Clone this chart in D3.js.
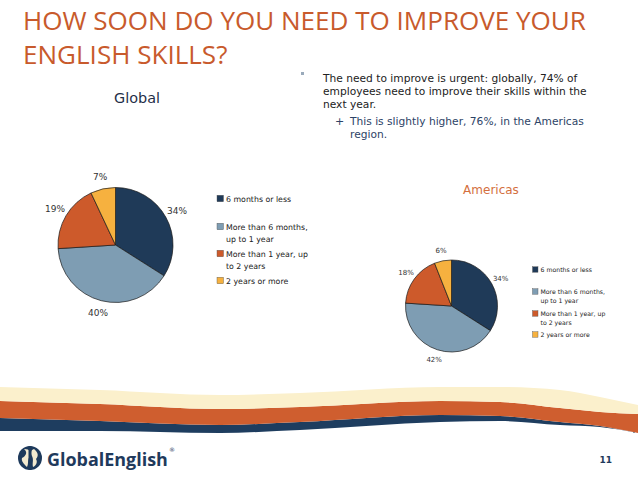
<!DOCTYPE html>
<html lang="en">
<head>
    <meta charset="UTF-8">
    <title>How soon do you need to improve your English skills?</title>
    <script src="https://d3js.org/d3.v7.min.js"></script>
    <style>
        body {margin: 0; background: white;}
        svg {display: block;}
        text {font-family: "DejaVu Sans", Verdana, sans-serif;}
    </style>
</head>
<body>
<script>
    const width = 638;
    const height = 478;

    // data
    const categories = ["6 months or less", "More than 6 months, up to 1 year",
                        "More than 1 year, up to 2 years", "2 years or more"];
    const legendLines = [["6 months or less"], ["More than 6 months,", "up to 1 year"],
                         ["More than 1 year, up", "to 2 years"], ["2 years or more"]];
    const globalValues = [34, 40, 19, 7];
    const americasValues = [34, 42, 18, 6];
    const colors = ["#1f3a58", "#7e9db3", "#cd5a2b", "#f6b13f"];

    const title = ["HOW SOON DO YOU NEED TO IMPROVE YOUR", "ENGLISH SKILLS?"];
    const bullet = ["The need to improve is urgent: globally, 74% of",
                    "employees need to improve their skills within the",
                    "next year."];
    const subBullet = ["This is slightly higher, 76%, in the Americas", "region."];

    const svg = d3.select("body").append("svg")
            .attr("width", width).attr("height", height);

    // scale font size so the longest line of a block fills a given width
    function fit(sel, w) {
        let max = 0;
        sel.each(function() { max = Math.max(max, this.getComputedTextLength()); });
        const fs = parseFloat(sel.attr("font-size"));
        sel.attr("font-size", fs * w / max);
    }

    // ---- header
    const t = svg.selectAll("text.title").data(title).enter().append("text")
            .attr("class", "title")
            .attr("x", 23).attr("y", (d, i) => 30 + i * 34)
            .style("font-family", "'Open Sans', sans-serif")
            .attr("font-size", 28)
            .attr("fill", "#c85a2c")
            .text(d => d);
    fit(t, 563);

    const gl = svg.append("text").attr("x", 137).attr("y", 103)
            .attr("text-anchor", "middle")
            .attr("font-size", 15)
            .attr("fill", "#1f2f48")
            .text("Global");
    fit(gl, 46);

    svg.append("rect").attr("x", 301).attr("y", 72).attr("width", 3).attr("height", 3)
            .attr("fill", "#9aaabb");
    const b = svg.selectAll("text.bullet").data(bullet).enter().append("text")
            .attr("class", "bullet")
            .attr("x", 323).attr("y", (d, i) => 82 + i * 13)
            .attr("font-size", 11).attr("fill", "#222")
            .text(d => d);
    fit(b, 264);

    svg.append("text").attr("x", 335).attr("y", 125)
            .attr("font-size", 11).attr("fill", "#2d4366").text("+");
    const sb = svg.selectAll("text.sub").data(subBullet).enter().append("text")
            .attr("class", "sub")
            .attr("x", 350).attr("y", (d, i) => 125 + i * 13)
            .attr("font-size", 11).attr("fill", "#2d4366")
            .text(d => d);
    sb.attr("font-size", b.attr("font-size"));

    // ---- pies
    const pie = d3.pie().sort(null).value(d => d);

    function drawPie(values, cx, cy, r, labelSize) {
        const arc = d3.arc().innerRadius(0).outerRadius(r);
        const labelArc = d3.arc().innerRadius(r * 1.22).outerRadius(r * 1.22);
        const g = svg.append("g").attr("transform", `translate(${cx},${cy})`);
        const slices = pie(values);
        g.selectAll("path").data(slices).enter().append("path")
                .attr("d", arc)
                .attr("fill", (d, i) => colors[i])
                .attr("stroke", "#1a1a1a")
                .attr("stroke-width", 0.7);
        g.selectAll("text").data(slices).enter().append("text")
                .attr("transform", d => `translate(${labelArc.centroid(d)})`)
                .attr("text-anchor", "middle")
                .attr("dy", "0.35em")
                .attr("font-size", labelSize)
                .attr("fill", "#333")
                .text(d => d.data + "%");
    }

    function drawLegend(x, ys, sq, size, lh, w) {
        const g = svg.append("g");
        legendLines.forEach((lines, i) => {
            g.append("rect").attr("x", x).attr("y", ys[i] - sq / 2 - 0.5)
                    .attr("width", sq).attr("height", sq)
                    .attr("fill", colors[i]).attr("stroke", "#555").attr("stroke-width", 0.4);
            lines.forEach((l, j) => {
                g.append("text").attr("class", "lg").attr("x", x + sq + 2.5).attr("y", ys[i] + j * lh)
                        .attr("dy", "0.32em")
                        .attr("font-size", size).attr("fill", "#222")
                        .text(l);
            });
        });
        fit(g.selectAll("text"), w);
    }

    drawPie(globalValues, 115.5, 245, 57.5, 9);
    drawLegend(217, [199, 227, 254, 281], 6.5, 8.6, 12, 82);

    svg.append("text").attr("x", 491).attr("y", 194)
            .attr("text-anchor", "middle")
            .attr("font-size", 12).attr("fill", "#d4703e")
            .text("Americas");
    drawPie(americasValues, 451.5, 306, 46, 7);
    drawLegend(532.5, [270, 292, 314, 335], 5.5, 6.8, 9.5, 65);

    // ---- footer wave (decoration)
    const waveX = [0, 100, 220, 300, 440, 500, 560, 600, 638];
    const creamTop = [387, 390, 395, 393, 387, 387, 390, 397, 405];
    const creamBot = [401, 404, 409, 407, 401, 402, 408, 412, 414];
    const orangeBot = [418, 421, 425, 422, 415, 416, 422, 426, 433];
    const navyBot = [431, 431, 433, 430, 422, 421, 425, 427, 433];

    function band(top, bot, fill) {
        const area = d3.area().curve(d3.curveMonotoneX)
                .x((d, i) => waveX[i]).y0((d, i) => bot[i]).y1((d, i) => top[i]);
        svg.append("path").datum(waveX).attr("d", area).attr("fill", fill);
    }
    band(orangeBot, navyBot, "#1e3d5f");
    band(creamBot, orangeBot, "#cf5e2f");
    band(creamTop, creamBot, "#fbf0cc");

    // ---- logo
    const logo = svg.append("g").attr("transform", "translate(30,458)");
    logo.append("circle").attr("r", 12).attr("fill", "#1e3a5c");
    logo.append("path").attr("d", "M-6,-9 C-2,-6 -4,-2 -8,0 C-9,3 -6,6 -3,9 C-1,5 -3,2 0,-2 C2,-6 0,-9 -6,-9Z")
            .attr("fill", "#f3ead0");
    logo.append("path").attr("d", "M4,-9 C8,-6 9,-2 6,1 C8,4 6,8 3,9 C2,5 4,2 2,-2 C0,-5 1,-8 4,-9Z")
            .attr("fill", "#f3ead0");
    logo.append("rect").attr("x", -1.5).attr("y", -12).attr("width", 3).attr("height", 24)
            .attr("fill", "#1e3a5c");

    const ge = svg.append("text").attr("x", 47).attr("y", 466)
            .attr("font-size", 19).attr("font-weight", "bold")
            .style("font-family", "'Open Sans', sans-serif")
            .attr("fill", "#1f3a5c")
            .text("GlobalEnglish");
    fit(ge, 121);
    svg.append("text").attr("x", 169).attr("y", 452)
            .attr("font-size", 6).attr("fill", "#1f3a5c").text("®");

    svg.append("text").attr("x", 612).attr("y", 463)
            .attr("text-anchor", "end")
            .attr("font-size", 9).attr("font-weight", "bold")
            .attr("fill", "#1f3a5c").text("11");
</script>
</body>
</html>
